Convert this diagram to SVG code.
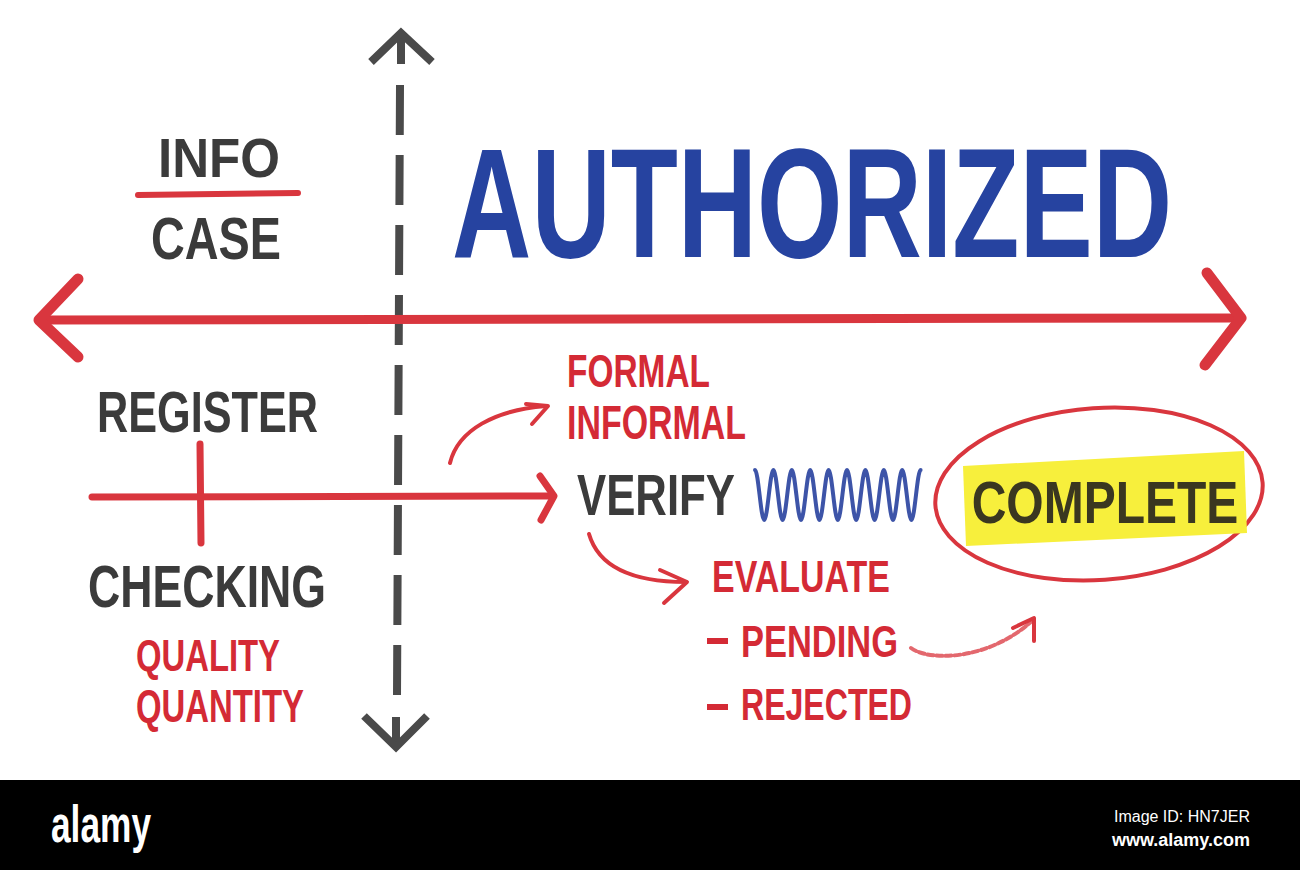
<svg xmlns="http://www.w3.org/2000/svg" width="1300" height="870" viewBox="0 0 1300 870">
<style>
.t{font-family:"Liberation Sans",Arial,sans-serif;font-weight:700}
.gray{fill:#3b3b3b}
.red{fill:#d42a35}
.blue{fill:#2643a0}
.rl{stroke:#d9363e;fill:none;stroke-linecap:round;stroke-linejoin:round}
.gl{stroke:#4a4a4a;fill:none;stroke-linecap:butt;stroke-linejoin:miter}
.wm{font-family:"Liberation Sans",Arial,sans-serif;fill:#fff}
</style>
<rect x="0" y="0" width="1300" height="870" fill="#ffffff"/>

<g id="connectors">
  <g id="v-axis">
    <line class="gl" x1="401" y1="33" x2="401" y2="64" stroke-width="8"/>
    <polyline class="gl" points="371,62 401,33 432,62" stroke-width="8"/>
    <line class="gl" x1="400" y1="85" x2="397" y2="697" stroke-width="8" stroke-dasharray="50 20"/>
    <line class="gl" x1="396" y1="717" x2="396" y2="746" stroke-width="8"/>
    <polyline class="gl" points="364,716 396,747 427,716" stroke-width="8"/>
  </g>
  <g id="h-axis">
    <line class="rl" x1="42" y1="320" x2="1238" y2="318" stroke-width="9"/>
    <polyline class="rl" points="78,279 39,320 78,357" stroke-width="11"/>
    <polyline class="rl" points="1207,273 1241,318 1205,365" stroke-width="11"/>
  </g>
  <line id="info-divider" class="rl" x1="138" y1="195" x2="298" y2="193" stroke-width="6"/>
  <line class="rl" x1="200" y1="444" x2="201" y2="543" stroke-width="7"/>
  <line class="rl" x1="92" y1="497" x2="552" y2="496" stroke-width="7"/>
  <polyline class="rl" points="540,476 554,496 541,520" stroke-width="7"/>
  <path class="rl" d="M450,463 C458,430 495,410 546,406" stroke-width="4"/>
  <polyline class="rl" points="526,404 548,406 532,424" stroke-width="4"/>
  <path class="rl" d="M589,534 C598,565 630,582 686,582" stroke-width="4"/>
  <polyline class="rl" points="660,570 687,582 664,603" stroke-width="4"/>
  <path class="rl" d="M911,648 C930,662 990,660 1033,620" stroke-width="4" stroke-dasharray="6 3" opacity="0.75"/>
  <polyline class="rl" points="1013,628 1034,618 1034,641" stroke-width="4"/>
  <path id="wave" d="M755,470 c3.3,0 5.9,50 9.2,50 c3.3,0 5.9,-50 9.2,-50 c3.3,0 5.9,50 9.2,50 c3.3,0 5.9,-50 9.2,-50 c3.3,0 5.9,50 9.2,50 c3.3,0 5.9,-50 9.2,-50 c3.3,0 5.9,50 9.2,50 c3.3,0 5.9,-50 9.2,-50 c3.3,0 5.9,50 9.2,50 c3.3,0 5.9,-50 9.2,-50 c3.3,0 5.9,50 9.2,50 c3.3,0 5.9,-50 9.2,-50 c3.3,0 5.9,50 9.2,50 c3.3,0 5.9,-50 9.2,-50 c3.3,0 5.9,50 9.2,50 c3.3,0 5.9,-50 9.2,-50 c3.3,0 5.9,50 9.2,50 c3.3,0 5.9,-50 9.2,-50" fill="none" stroke="#3d54a8" stroke-width="4" stroke-linecap="round"/>
</g>

<g id="info"><text class="t gray" x="158" y="177" font-size="56" textLength="122" lengthAdjust="spacingAndGlyphs">INFO</text></g>
<g id="case"><text class="t gray" x="151" y="259" font-size="60" textLength="130" lengthAdjust="spacingAndGlyphs">CASE</text></g>
<g id="authorized"><text class="t blue" transform="translate(812 257) scale(0.704 1)" x="0" y="0" font-size="156" text-anchor="middle">AUTHORIZED</text></g>
<g id="register"><text class="t gray" x="97" y="432" font-size="58" textLength="221" lengthAdjust="spacingAndGlyphs">REGISTER</text></g>
<g id="checking"><text class="t gray" x="88" y="607" font-size="60" textLength="238" lengthAdjust="spacingAndGlyphs">CHECKING</text></g>
<g id="quality"><text class="t red" x="136" y="671" font-size="44" textLength="144" lengthAdjust="spacingAndGlyphs">QUALITY</text></g>
<g id="quantity"><text class="t red" x="136" y="722" font-size="46" textLength="168" lengthAdjust="spacingAndGlyphs">QUANTITY</text></g>
<g id="formal"><text class="t red" x="567" y="387" font-size="46" textLength="143" lengthAdjust="spacingAndGlyphs">FORMAL</text></g>
<g id="informal"><text class="t red" x="567" y="439" font-size="48" textLength="179" lengthAdjust="spacingAndGlyphs">INFORMAL</text></g>
<g id="verify"><text class="t gray" x="577" y="515" font-size="58" textLength="158" lengthAdjust="spacingAndGlyphs">VERIFY</text></g>
<g id="complete">
  <ellipse cx="1099" cy="494" rx="164" ry="86" transform="rotate(-4 1099 494)" fill="none" stroke="#d9363e" stroke-width="4"/>
  <polygon points="963,466 1244,451 1247,533 966,546" fill="#f7ef3c"/>
  <text class="t" fill="#3a3720" transform="translate(1105 523) scale(0.8 1)" x="0" y="0" font-size="60" text-anchor="middle">COMPLETE</text>
</g>
<g id="evaluate"><text class="t red" x="712" y="592" font-size="44" textLength="178" lengthAdjust="spacingAndGlyphs">EVALUATE</text></g>
<g id="pending">
  <line x1="707" y1="641" x2="728" y2="641" stroke="#d42a35" stroke-width="6"/>
  <text class="t red" x="741" y="657" font-size="44" textLength="157" lengthAdjust="spacingAndGlyphs">PENDING</text>
</g>
<g id="rejected">
  <line x1="707" y1="707" x2="728" y2="707" stroke="#d42a35" stroke-width="6"/>
  <text class="t red" x="741" y="720" font-size="44" textLength="171" lengthAdjust="spacingAndGlyphs">REJECTED</text>
</g>

<g id="watermark-bar">
  <rect x="0" y="780" width="1300" height="90" fill="#000"/>
  <text class="wm" x="51" y="842" font-size="52" font-weight="700" textLength="100" lengthAdjust="spacingAndGlyphs">alamy</text>
  <text class="wm" x="1250" y="822" font-size="16" text-anchor="end">Image ID: HN7JER</text>
  <text class="wm" x="1250" y="846" font-size="18" font-weight="700" text-anchor="end">www.alamy.com</text>
</g>
</svg>
